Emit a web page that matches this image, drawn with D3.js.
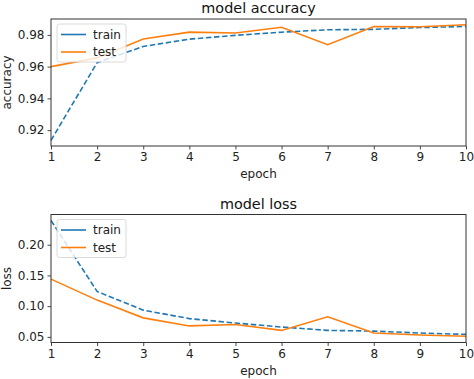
<!DOCTYPE html>
<html><head><meta charset="utf-8">
<script src="https://cdn.jsdelivr.net/npm/d3@7"></script>
<style>
html,body{margin:0;padding:0;background:#fff;}
svg{display:block;font-family:"DejaVu Sans",sans-serif;}
</style></head>
<body><svg id="c" width="474" height="379"></svg>
<script>
const epochs = [1,2,3,4,5,6,7,8,9,10];
const accTrain = [0.9136,0.9625,0.9727,0.9773,0.9797,0.9817,0.9832,0.9835,0.9846,0.9853];
const accTest  = [0.9600,0.9655,0.9774,0.9817,0.9812,0.9848,0.9738,0.9853,0.9851,0.9864];
const lossTrain = [0.2395,0.1239,0.0935,0.0797,0.0725,0.0660,0.0605,0.0594,0.0562,0.0540];
const lossTest  = [0.1440,0.1098,0.0809,0.0678,0.0700,0.0605,0.0827,0.0562,0.0530,0.0510];
const accTicks = [0.92,0.94,0.96,0.98];
const lossTicks = [0.05,0.10,0.15,0.20];
const xTicks = [1,2,3,4,5,6,7,8,9,10];
const seriesNames = ["train","test"];
const colors = ["#1f77b4","#ff7f0e"];

const svg = d3.select("#c");

function panel(opt){
  const g = svg.append("g");
  const x = d3.scaleLinear().domain([1,10]).range([51,466]);
  const y = d3.scaleLinear().domain(opt.ydom).range([opt.bottom,opt.top]);
  // x axis
  const xa = g.append("g").attr("transform",`translate(0,${opt.bottom})`)
    .call(d3.axisBottom(x).tickValues(xTicks).tickFormat(d3.format("d")).tickSize(3.5).tickPadding(3));
  const ya = g.append("g").attr("transform",`translate(51,0)`)
    .call(d3.axisLeft(y).tickValues(opt.yticks).tickFormat(opt.fmt).tickSize(3.5).tickPadding(3));
  [xa,ya].forEach(a=>{
    a.select(".domain").remove();
    a.selectAll("text").attr("font-size",12).attr("fill","#222").attr("font-family","DejaVu Sans");
    a.selectAll("line").attr("stroke","#333").attr("stroke-width",0.9);
  });
  // lines
  const line = d3.line().x((d,i)=>x(epochs[i])).y(d=>y(d));
  g.append("path").datum(opt.train).attr("d",line).attr("fill","none")
    .attr("stroke",colors[0]).attr("stroke-width",1.6).attr("stroke-dasharray","5.5,2.6");
  g.append("path").datum(opt.test).attr("d",line).attr("fill","none")
    .attr("stroke",colors[1]).attr("stroke-width",1.6);
  // frame
  g.append("rect").attr("x",51).attr("y",opt.top).attr("width",415).attr("height",opt.bottom-opt.top)
    .attr("fill","none").attr("stroke","#333").attr("stroke-width",1);
  // legend
  const lg = g.append("g").attr("transform",`translate(57,${opt.top+5})`);
  lg.append("rect").attr("width",69).attr("height",38).attr("rx",2.5)
    .attr("fill","rgba(255,255,255,0.8)").attr("stroke","#d0d0d0").attr("stroke-width",0.8);
  seriesNames.forEach((n,i)=>{
    const yy = 10.5 + i*17.5;
    lg.append("line").attr("x1",4).attr("x2",29).attr("y1",yy).attr("y2",yy)
      .attr("stroke",colors[i]).attr("stroke-width",1.6);
    lg.append("text").attr("x",36).attr("y",yy+4.3).attr("font-size",12).attr("fill","#222").text(n);
  });
  // titles
  g.append("text").attr("x",258.5).attr("y",opt.top-6).attr("text-anchor","middle")
    .attr("font-size",14.4).attr("fill","#111").text(opt.title);
  g.append("text").attr("x",258.5).attr("y",opt.bottom+32).attr("text-anchor","middle")
    .attr("font-size",12).attr("fill","#222").text("epoch");
  g.append("text").attr("transform",`translate(11,${(opt.top+opt.bottom)/2}) rotate(-90)`)
    .attr("text-anchor","middle").attr("font-size",12).attr("fill","#222").text(opt.ylabel);
}

panel({top:19,bottom:146,ydom:[0.9100,0.9900],yticks:accTicks,fmt:d3.format(".2f"),
  train:accTrain,test:accTest,title:"model accuracy",ylabel:"accuracy"});
panel({top:214.5,bottom:342.5,ydom:[0.0408,0.2492],yticks:lossTicks,fmt:d3.format(".2f"),
  train:lossTrain,test:lossTest,title:"model loss",ylabel:"loss"});
</script></body></html>
